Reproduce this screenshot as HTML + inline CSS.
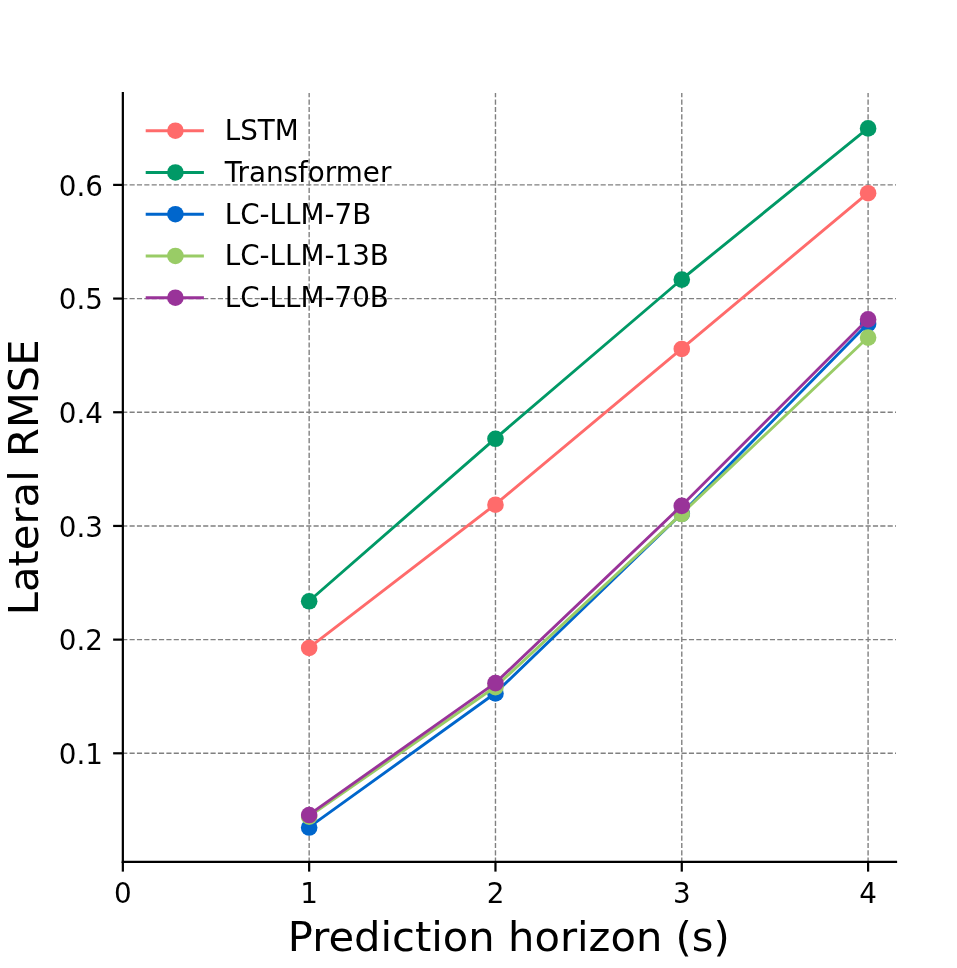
<!DOCTYPE html>
<html lang="en"><head><meta charset="utf-8"><title>Lateral RMSE vs prediction horizon</title>
<style>html,body{margin:0;padding:0;background:#fff}body{width:957px;height:968px;overflow:hidden}svg{display:block}text{font-family:"DejaVu Sans", "Liberation Sans", sans-serif;fill:#000}</style></head><body>
<svg width="957" height="968" viewBox="0 0 957 968">
<rect width="957" height="968" fill="#fff"/>
<g stroke="#808080" stroke-width="1.39" stroke-dasharray="5.14 2.22" fill="none">
<path d="M309.16 861.90V93.10" stroke-dashoffset="0.85"/>
<path d="M495.47 861.90V93.10" stroke-dashoffset="0.85"/>
<path d="M681.78 861.90V93.10" stroke-dashoffset="0.85"/>
<path d="M868.09 861.90V93.10" stroke-dashoffset="0.85"/>
<path d="M122.85 753.30H896.00" stroke-dashoffset="0.65"/>
<path d="M122.85 639.62H896.00" stroke-dashoffset="0.65"/>
<path d="M122.85 525.94H896.00" stroke-dashoffset="0.65"/>
<path d="M122.85 412.26H896.00" stroke-dashoffset="0.65"/>
<path d="M122.85 298.58H896.00" stroke-dashoffset="0.65"/>
<path d="M122.85 184.90H896.00" stroke-dashoffset="0.65"/>
</g>
<g fill="#ff6b6b" stroke="none"><polyline points="309.16,647.58 495.47,504.34 681.78,348.60 868.09,192.86" fill="none" stroke="#ff6b6b" stroke-width="2.90" stroke-linejoin="round"/>
<circle cx="309.16" cy="647.93" r="8.30"/>
<circle cx="495.47" cy="504.69" r="8.30"/>
<circle cx="681.78" cy="348.95" r="8.30"/>
<circle cx="868.09" cy="193.21" r="8.30"/>
</g>
<g fill="#009966" stroke="none"><polyline points="309.16,600.97 495.47,438.41 681.78,279.25 868.09,128.06" fill="none" stroke="#009966" stroke-width="2.90" stroke-linejoin="round"/>
<circle cx="309.16" cy="601.32" r="8.30"/>
<circle cx="495.47" cy="438.76" r="8.30"/>
<circle cx="681.78" cy="279.60" r="8.30"/>
<circle cx="868.09" cy="128.41" r="8.30"/>
</g>
<g fill="#0066cc" stroke="none"><polyline points="309.16,827.19 495.47,693.05 681.78,513.44 868.09,323.59" fill="none" stroke="#0066cc" stroke-width="2.90" stroke-linejoin="round"/>
<circle cx="309.16" cy="827.54" r="8.30"/>
<circle cx="495.47" cy="693.40" r="8.30"/>
<circle cx="681.78" cy="513.79" r="8.30"/>
<circle cx="868.09" cy="323.94" r="8.30"/>
</g>
<g fill="#99cc66" stroke="none"><polyline points="309.16,816.39 495.47,686.80 681.78,513.66 868.09,337.23" fill="none" stroke="#99cc66" stroke-width="2.90" stroke-linejoin="round"/>
<circle cx="309.16" cy="816.74" r="8.30"/>
<circle cx="495.47" cy="687.15" r="8.30"/>
<circle cx="681.78" cy="514.01" r="8.30"/>
<circle cx="868.09" cy="337.58" r="8.30"/>
</g>
<g fill="#993399" stroke="none"><polyline points="309.16,814.69 495.47,682.82 681.78,505.48 868.09,319.04" fill="none" stroke="#993399" stroke-width="2.90" stroke-linejoin="round"/>
<circle cx="309.16" cy="815.04" r="8.30"/>
<circle cx="495.47" cy="683.17" r="8.30"/>
<circle cx="681.78" cy="505.83" r="8.30"/>
<circle cx="868.09" cy="319.39" r="8.30"/>
</g>
<g stroke="#000" stroke-width="2.22" stroke-linecap="square" fill="none">
<path d="M122.85 93.10V861.90"/>
<path d="M122.85 861.90H896.00"/>
</g>
<g stroke="#000" stroke-width="2.22" fill="none">
<path d="M122.85 861.90v9.72"/>
<path d="M309.16 861.90v9.72"/>
<path d="M495.47 861.90v9.72"/>
<path d="M681.78 861.90v9.72"/>
<path d="M868.09 861.90v9.72"/>
<path d="M122.85 753.30h-9.72"/>
<path d="M122.85 639.62h-9.72"/>
<path d="M122.85 525.94h-9.72"/>
<path d="M122.85 412.26h-9.72"/>
<path d="M122.85 298.58h-9.72"/>
<path d="M122.85 184.90h-9.72"/>
</g>
<g font-size="27.78">
<text x="122.85" y="903.10" text-anchor="middle">0</text>
<text x="309.16" y="903.10" text-anchor="middle">1</text>
<text x="495.47" y="903.10" text-anchor="middle">2</text>
<text x="681.78" y="903.10" text-anchor="middle">3</text>
<text x="868.09" y="903.10" text-anchor="middle">4</text>
<text x="103.00" y="764.00" text-anchor="end">0.1</text>
<text x="103.00" y="650.32" text-anchor="end">0.2</text>
<text x="103.00" y="536.64" text-anchor="end">0.3</text>
<text x="103.00" y="422.96" text-anchor="end">0.4</text>
<text x="103.00" y="309.28" text-anchor="end">0.5</text>
<text x="103.00" y="195.60" text-anchor="end">0.6</text>
</g>
<text x="508.80" y="951.20" font-size="41.67" text-anchor="middle">Prediction horizon (s)</text>
<text transform="translate(38.40 477.30) rotate(-90)" font-size="41.67" text-anchor="middle">Lateral RMSE</text>
<path d="M145.70 130.70H203.90" stroke="#ff6b6b" stroke-width="2.90" fill="none"/>
<circle cx="175.40" cy="130.70" r="8.30" fill="#ff6b6b"/>
<text x="224.70" y="140.20" font-size="27.78">LSTM</text>
<path d="M145.70 172.45H203.90" stroke="#009966" stroke-width="2.90" fill="none"/>
<circle cx="175.40" cy="172.45" r="8.30" fill="#009966"/>
<text x="224.70" y="181.90" font-size="27.78">Transformer</text>
<path d="M145.70 214.20H203.90" stroke="#0066cc" stroke-width="2.90" fill="none"/>
<circle cx="175.40" cy="214.20" r="8.30" fill="#0066cc"/>
<text x="224.70" y="223.60" font-size="27.78">LC-LLM-7B</text>
<path d="M145.70 255.95H203.90" stroke="#99cc66" stroke-width="2.90" fill="none"/>
<circle cx="175.40" cy="255.95" r="8.30" fill="#99cc66"/>
<text x="224.70" y="265.30" font-size="27.78">LC-LLM-13B</text>
<path d="M145.70 297.70H203.90" stroke="#993399" stroke-width="2.90" fill="none"/>
<circle cx="175.40" cy="297.70" r="8.30" fill="#993399"/>
<text x="224.70" y="307.00" font-size="27.78">LC-LLM-70B</text>
</svg></body></html>
